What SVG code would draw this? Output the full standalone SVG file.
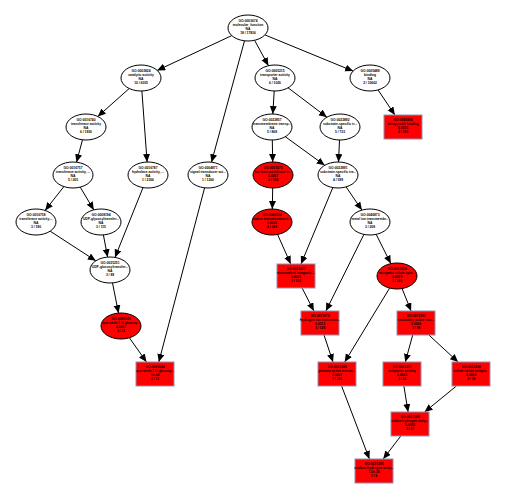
<svg xmlns="http://www.w3.org/2000/svg" width="507" height="498" viewBox="0 0 507 498">
<style>
.bg{fill:#fff}
.en ellipse{fill:#fff;stroke:#000;stroke-width:1}
.er ellipse{fill:#ff0000;stroke:#000;stroke-width:1}
.rr rect{fill:#ff0000;stroke:#9090b0;stroke-width:1}
text{font-family:"Liberation Sans",Arial,sans-serif;font-size:3.3px;font-weight:bold;text-anchor:middle;fill:#000}
.edges line{stroke:#000;stroke-width:1;marker-end:url(#ah)}
</style>
<defs>
<marker id="ah" markerUnits="userSpaceOnUse" markerWidth="10" markerHeight="8" refX="8" refY="3.5" orient="auto">
<path d="M0,0 L8,3.5 L0,7 Z" fill="#000"/>
</marker>
</defs>
<rect class="bg" x="0" y="0" width="507" height="498"/>
<g class="edges">
<line x1="231.8" y1="35.6" x2="157.2" y2="70.4"/>
<line x1="244.5" y1="40.8" x2="211.5" y2="162.2"/>
<line x1="254.6" y1="40.3" x2="268.4" y2="65.7"/>
<line x1="264.9" y1="34.9" x2="353.1" y2="71.1"/>
<line x1="129.2" y1="88.5" x2="97.8" y2="116.5"/>
<line x1="141.9" y1="91.0" x2="147.1" y2="162.0"/>
<line x1="378.0" y1="89.9" x2="394.9" y2="115.0"/>
<line x1="274.2" y1="91.0" x2="272.8" y2="114.0"/>
<line x1="288.1" y1="87.8" x2="326.9" y2="117.2"/>
<line x1="82.5" y1="139.8" x2="76.5" y2="162.2"/>
<line x1="272.3" y1="140" x2="272.7" y2="162"/>
<line x1="285.3" y1="136.7" x2="324.7" y2="165.3"/>
<line x1="339.5" y1="140" x2="338.5" y2="162"/>
<line x1="63.9" y1="186.6" x2="45.1" y2="210.4"/>
<line x1="80.2" y1="187.1" x2="93.8" y2="209.9"/>
<line x1="272.7" y1="188" x2="272.3" y2="209"/>
<line x1="346.1" y1="186.9" x2="361.9" y2="210.1"/>
<line x1="332.8" y1="187.6" x2="301.0" y2="264"/>
<line x1="277.6" y1="234.5" x2="290.7" y2="264"/>
<line x1="376.2" y1="234.4" x2="390.8" y2="263.6"/>
<line x1="363.9" y1="234.4" x2="325.9" y2="311"/>
<line x1="302.1" y1="288" x2="313.9" y2="311"/>
<line x1="402.1" y1="288.6" x2="411.1" y2="311"/>
<line x1="389.6" y1="288.1" x2="344.7" y2="362"/>
<line x1="324" y1="335" x2="333" y2="362"/>
<line x1="412.7" y1="335" x2="405.3" y2="362"/>
<line x1="428.9" y1="335" x2="458.1" y2="362"/>
<line x1="403.9" y1="386" x2="408.1" y2="412"/>
<line x1="456.4" y1="386" x2="424.6" y2="412"/>
<line x1="400.8" y1="436" x2="383.2" y2="459"/>
<line x1="341.6" y1="386" x2="369.4" y2="459"/>
<line x1="50.2" y1="231.2" x2="95.8" y2="260.8"/>
<line x1="103.4" y1="234.9" x2="107.6" y2="257.1"/>
<line x1="143" y1="187.6" x2="115" y2="257.4"/>
<line x1="112.5" y1="282.9" x2="118.5" y2="313.1"/>
<line x1="129.4" y1="337.8" x2="146.5" y2="362"/>
<line x1="204.6" y1="187.8" x2="158.8" y2="362"/>
</g>
<g id="n1" class="en"><ellipse cx="248" cy="28" rx="20" ry="13"/><text x="248" y="22">GO:0003674</text><text x="248" y="26">molecular_function</text><text x="248" y="30">NA</text><text x="248" y="34">18 / 17836</text></g>
<g id="n2" class="en"><ellipse cx="141" cy="78" rx="20" ry="13"/><text x="141" y="72">GO:0003824</text><text x="141" y="76">catalytic activity</text><text x="141" y="80">NA</text><text x="141" y="84">10 / 6305</text></g>
<g id="n3" class="en"><ellipse cx="275" cy="78" rx="20" ry="13"/><text x="275" y="72">GO:0005215</text><text x="275" y="76">transporter activity</text><text x="275" y="80">NA</text><text x="275" y="84">6 / 1026</text></g>
<g id="n4" class="en"><ellipse cx="370" cy="78" rx="20" ry="13"/><text x="370" y="72">GO:0005488</text><text x="370" y="76">binding</text><text x="370" y="80">NA</text><text x="370" y="84">2 / 10662</text></g>
<g id="n5" class="rr"><rect x="384" y="115" width="38" height="24"/><text x="403" y="121">GO:0046906</text><text x="403" y="125">tetrapyrrole binding</text><text x="403" y="129">0.0015</text><text x="403" y="133">2 / 180</text></g>
<g id="n6" class="en"><ellipse cx="86" cy="127" rx="20" ry="13"/><text x="86" y="121">GO:0016740</text><text x="86" y="125">transferase activity</text><text x="86" y="129">NA</text><text x="86" y="133">6 / 1930</text></g>
<g id="n7" class="en"><ellipse cx="272" cy="127" rx="20" ry="13"/><text x="272" y="121">GO:0022857</text><text x="272" y="125">transmembrane transp...</text><text x="272" y="129">NA</text><text x="272" y="133">5 / 868</text></g>
<g id="n8" class="en"><ellipse cx="340" cy="127" rx="20" ry="13"/><text x="340" y="121">GO:0022892</text><text x="340" y="125">substrate-specific tr...</text><text x="340" y="129">NA</text><text x="340" y="133">5 / 733</text></g>
<g id="n9" class="en"><ellipse cx="73" cy="175" rx="20" ry="13"/><text x="73" y="169">GO:0016757</text><text x="73" y="173">transferase activity, ...</text><text x="73" y="177">NA</text><text x="73" y="181">5 / 265</text></g>
<g id="n10" class="en"><ellipse cx="148" cy="175" rx="20" ry="13"/><text x="148" y="169">GO:0016787</text><text x="148" y="173">hydrolase activity, ...</text><text x="148" y="177">NA</text><text x="148" y="181">1 / 2306</text></g>
<g id="n11" class="en"><ellipse cx="208" cy="175" rx="20" ry="13"/><text x="208" y="169">GO:0004871</text><text x="208" y="173">signal transducer act...</text><text x="208" y="177">NA</text><text x="208" y="181">1 / 1260</text></g>
<g id="n12" class="er"><ellipse cx="273" cy="175" rx="20" ry="13"/><text x="273" y="169">GO:0015075</text><text x="273" y="173">ion transmembrane tr...</text><text x="273" y="177">0.0067</text><text x="273" y="181">4 / 509</text></g>
<g id="n13" class="en"><ellipse cx="338" cy="175" rx="20" ry="13"/><text x="338" y="169">GO:0022891</text><text x="338" y="173">substrate-specific tra...</text><text x="338" y="177">NA</text><text x="338" y="181">4 / 599</text></g>
<g id="n14" class="en"><ellipse cx="36" cy="222" rx="20" ry="13"/><text x="36" y="216">GO:0016758</text><text x="36" y="220">transferase activity,...</text><text x="36" y="224">NA</text><text x="36" y="228">3 / 190</text></g>
<g id="n15" class="en"><ellipse cx="101" cy="222" rx="20" ry="13"/><text x="101" y="216">GO:0008194</text><text x="101" y="220">UDP-glycosyltransfer...</text><text x="101" y="224">NA</text><text x="101" y="228">3 / 115</text></g>
<g id="n16" class="er"><ellipse cx="272" cy="222" rx="20" ry="13"/><text x="272" y="216">GO:0008324</text><text x="272" y="220">cation transmembrane...</text><text x="272" y="224">0.0032</text><text x="272" y="228">4 / 388</text></g>
<g id="n17" class="en"><ellipse cx="370" cy="222" rx="20" ry="13"/><text x="370" y="216">GO:0046873</text><text x="370" y="220">metal ion transmembr...</text><text x="370" y="224">NA</text><text x="370" y="228">3 / 208</text></g>
<g id="n18" class="en"><ellipse cx="110" cy="270" rx="20" ry="13"/><text x="110" y="264">GO:0035251</text><text x="110" y="268">UDP-glucosyltransfer...</text><text x="110" y="272">NA</text><text x="110" y="276">3 / 89</text></g>
<g id="n19" class="rr"><rect x="277" y="264" width="38" height="24"/><text x="296" y="270">GO:0015077</text><text x="296" y="274">monovalent inorganic ...</text><text x="296" y="278">0.0021</text><text x="296" y="282">3 / 152</text></g>
<g id="n20" class="er"><ellipse cx="397" cy="276" rx="20" ry="13"/><text x="397" y="270">GO:0015318</text><text x="397" y="274">inorganic solute upta...</text><text x="397" y="278">0.0019</text><text x="397" y="282">3 / 140</text></g>
<g id="n21" class="er"><ellipse cx="121" cy="326" rx="20" ry="13"/><text x="121" y="320">GO:0080043</text><text x="121" y="324">quercetin 3-O-glucosy...</text><text x="121" y="328">0.0011</text><text x="121" y="332">2 / 21</text></g>
<g id="n22" class="rr"><rect x="301" y="311" width="38" height="24"/><text x="320" y="317">GO:0015078</text><text x="320" y="321">hydrogen ion transmem...</text><text x="320" y="325">0.0013</text><text x="320" y="329">3 / 129</text></g>
<g id="n23" class="rr"><rect x="397" y="311" width="38" height="24"/><text x="416" y="317">GO:0015291</text><text x="416" y="321">secondary active tran...</text><text x="416" y="325">0.0006</text><text x="416" y="329">3 / 98</text></g>
<g id="n24" class="rr"><rect x="136" y="362" width="38" height="24"/><text x="155" y="368">GO:0080044</text><text x="155" y="372">quercetin 7-O-glucosy...</text><text x="155" y="376">1e-04</text><text x="155" y="380">2 / 11</text></g>
<g id="n25" class="rr"><rect x="318" y="362" width="38" height="24"/><text x="337" y="368">GO:0015399</text><text x="337" y="372">primary active transm...</text><text x="337" y="376">0.0007</text><text x="337" y="380">3 / 115</text></g>
<g id="n26" class="rr"><rect x="383" y="362" width="38" height="24"/><text x="402" y="368">GO:0015297</text><text x="402" y="372">antiporter activity</text><text x="402" y="376">0.0005</text><text x="402" y="380">2 / 62</text></g>
<g id="n27" class="rr"><rect x="452" y="362" width="38" height="24"/><text x="471" y="368">GO:0015298</text><text x="471" y="372">solute:cation antipor...</text><text x="471" y="376">0.0004</text><text x="471" y="380">2 / 58</text></g>
<g id="n28" class="rr"><rect x="391" y="412" width="38" height="24"/><text x="410" y="418">GO:0015299</text><text x="410" y="422">solute:hydrogen antip...</text><text x="410" y="426">0.0003</text><text x="410" y="430">2 / 47</text></g>
<g id="n29" class="rr"><rect x="355" y="459" width="38" height="24"/><text x="374" y="465">GO:0015385</text><text x="374" y="469">sodium:hydrogen antip...</text><text x="374" y="473">1.5e-05</text><text x="374" y="477">2 / 8</text></g>
</svg>
